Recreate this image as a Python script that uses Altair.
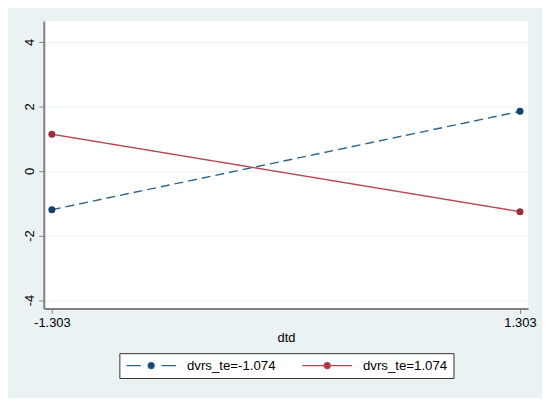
import altair as alt
import pandas as pd

# ---- data ----
dtd = [-1.303, 1.303]
series_names = ["dvrs_te=-1.074", "dvrs_te=1.074"]
blue_vals = [-1.20, 1.85]
red_vals = [1.14, -1.26]
y_ticks = [-4, -2, 0, 2, 4]
dot_colors = ["#123f6b", "#9c2f3a"]
line_colors = ["#2a6592", "#b8444e"]

rows = []
for name, vals in zip(series_names, [blue_vals, red_vals]):
    for xv, yv in zip(dtd, vals):
        rows.append({"dtd": xv, "y": yv, "series": name})
df = pd.DataFrame(rows)

FONT = "Liberation Sans"
BG = "#eaf2f3"
AX = "#7f7f7f"

# legend symbols: line (dashed / solid) with a dot in the middle
path_dash = ("M-1,0H-0.42M0.42,0H1"
             "M0.12,0A0.12,0.12,0,1,1,-0.12,0A0.12,0.12,0,1,1,0.12,0Z")
path_solid = ("M-1,0H1"
              "M0.12,0A0.12,0.12,0,1,1,-0.12,0A0.12,0.12,0,1,1,0.12,0Z")

x_enc = alt.X("dtd:Q", scale=alt.Scale(domain=[-1.348, 1.348], nice=False, zero=False),
              axis=alt.Axis(values=dtd, title="dtd", grid=False,
                            labelExpr="datum.value < 0 ? '-' + format(-datum.value, '.3f') : format(datum.value, '.3f')",
                            domainColor=AX, domainWidth=2, tickColor=AX, tickSize=5, tickWidth=1,
                            labelFont=FONT, labelFontSize=13, labelColor="#000000", labelPadding=3,
                            titleFont=FONT, titleFontSize=13, titleFontWeight="normal",
                            titleColor="#000000", titlePadding=2, labelFlush=False))
y_enc = alt.Y("y:Q", scale=alt.Scale(domain=[-4.26, 4.65], nice=False, zero=False),
              axis=alt.Axis(values=y_ticks, title=None, grid=True, gridColor=BG, gridWidth=1,
                            labelExpr="datum.value < 0 ? '-' + format(-datum.value, 'd') : format(datum.value, 'd')",
                            labelAngle=270, labelAlign="center", labelBaseline="bottom",
                            domainColor=AX, domainWidth=2, tickColor=AX, tickSize=5, tickWidth=1,
                            labelFont=FONT, labelFontSize=13, labelColor="#000000", labelPadding=2))

dot_scale = alt.Scale(domain=series_names, range=dot_colors)
line_scale = alt.Scale(domain=series_names, range=line_colors)

lines = alt.Chart(df).mark_line(strokeWidth=1.4).encode(
    x=x_enc, y=y_enc,
    color=alt.Color("series:N", scale=line_scale, legend=None),
    strokeDash=alt.StrokeDash("series:N", scale=alt.Scale(domain=series_names, range=[[9, 5], [1, 0]]), legend=None),
)

points = alt.Chart(df).mark_circle(size=50, opacity=1).encode(
    x=x_enc, y=y_enc,
    color=alt.Color("series:N", scale=dot_scale, legend=None),
)

leg = alt.Legend(title=None, orient="none", legendX=76, legendY=334, direction="horizontal",
                 columns=2, columnPadding=25, labelOffset=10, padding=6, clipHeight=13,
                 strokeColor="#333333", fillColor="#ffffff",
                 symbolSize=2500, symbolStrokeWidth=1.4,
                 labelFont=FONT, labelFontSize=13.3, labelColor="#000000")

legend_layer = alt.Chart(df).mark_point(filled=True, opacity=1, strokeWidth=1.4, size=2500).encode(
    x=x_enc, y=y_enc,
    color=alt.Color("series:N", scale=dot_scale, legend=leg),
    stroke=alt.Stroke("series:N", scale=line_scale, legend=leg),
    shape=alt.Shape("series:N", scale=alt.Scale(domain=series_names, range=[path_dash, path_solid]), legend=leg),
).transform_filter("datum.y > 100")

chart = alt.layer(lines, points, legend_layer).resolve_scale(
    color="independent", strokeDash="independent", stroke="independent", shape="independent"
).properties(
    width=487, height=289,
    background=BG,
    padding={"left": 36, "top": 12, "right": 14, "bottom": 89},
    autosize=alt.AutoSizeParams(type="none"),
).configure_view(fill="#ffffff", stroke=None)

chart.save("out.html", embed_options={"renderer": "svg", "actions": False})
